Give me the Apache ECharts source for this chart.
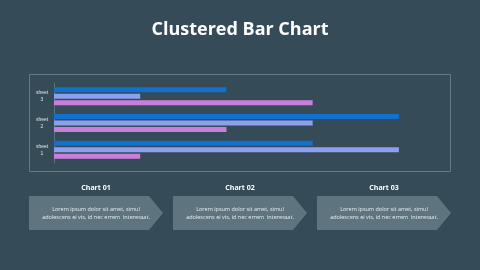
<!DOCTYPE html>
<html>
<head>
<meta charset="utf-8">
<script src="https://cdn.jsdelivr.net/npm/echarts@6/dist/echarts.min.js"></script>
<style>
  html, body { margin: 0; padding: 0; background: #354b57; }
  #chart { width: 480px; height: 270px; }
</style>
</head>
<body>
<div id="chart"></div>
<script>
  const categories = ['sheet\n1', 'sheet\n2', 'sheet\n3'];
  // top bar of each group first
  const blueValues = [3, 4, 2];
  const lavenderValues = [4, 3, 1];
  const pinkValues = [1, 2, 3];
  const cardTitles = ['Chart 01', 'Chart 02', 'Chart 03'];
  const cardText = 'Lorem ipsum dolor sit amet, simul\nadolescens ei vis, id nec errem  interessat.';

  const chart = echarts.init(document.getElementById('chart'));

  // bottom arrow cards
  const cards = [];
  const cardX = [29, 173, 317];
  cardX.forEach((x, i) => {
    cards.push({
      type: 'text',
      x: x + 67, y: 184,
      style: {
        text: cardTitles[i], align: 'center', verticalAlign: 'top',
        fill: '#ffffff', font: 'bold 7px "Open Sans"'
      }
    });
    cards.push({
      type: 'polygon',
      shape: {
        points: [[x, 196], [x + 120, 196], [x + 134, 213], [x + 120, 230], [x, 230]]
      },
      style: { fill: '#5e757f' }
    });
    cards.push({
      type: 'text',
      x: x + 67, y: 205,
      style: {
        text: cardText, align: 'center', verticalAlign: 'top',
        fill: '#e8eef0', font: '5.5px "Open Sans"', lineHeight: 8.5
      }
    });
  });

  chart.setOption({
    backgroundColor: '#354b57',

    title: {
      text: 'Clustered Bar Chart',
      left: 'center',
      top: 16,
      textStyle: {
        color: '#ffffff',
        fontFamily: 'Open Sans',
        fontWeight: 'bold',
        fontSize: 18
      }
    },

    graphic: [{
      type: 'rect',
      shape: { x: 29.5, y: 74.5, width: 421, height: 97 },
      style: { fill: 'none', stroke: '#627b87', lineWidth: 1 },
      z: 0
    }].concat(cards),

    grid: {
      left: 54,
      right: 38,
      top: 83,
      bottom: 107
    },

    xAxis: {
      type: 'value',
      min: 0,
      max: 4.5,
      show: false
    },

    yAxis: {
      type: 'category',
      data: categories,
      axisLine: { show: true, lineStyle: { color: '#5b727c' } },
      axisTick: { show: false },
      axisLabel: {
        color: '#dfe6ea',
        fontSize: 5,
        lineHeight: 7,
        margin: 12,
        align: 'center'
      }
    },

    series: [{
      name: 'blue',
      type: 'bar',
      data: blueValues,
      barWidth: 5,
      barGap: '30%',
      itemStyle: { color: '#1270cf' }
    }, {
      name: 'lavender',
      type: 'bar',
      data: lavenderValues,
      barWidth: 5,
      itemStyle: { color: '#8e9ff0' }
    }, {
      name: 'pink',
      type: 'bar',
      data: pinkValues,
      barWidth: 5,
      itemStyle: { color: '#c87fdb' }
    }],

    animation: false
  });
</script>
</body>
</html>
